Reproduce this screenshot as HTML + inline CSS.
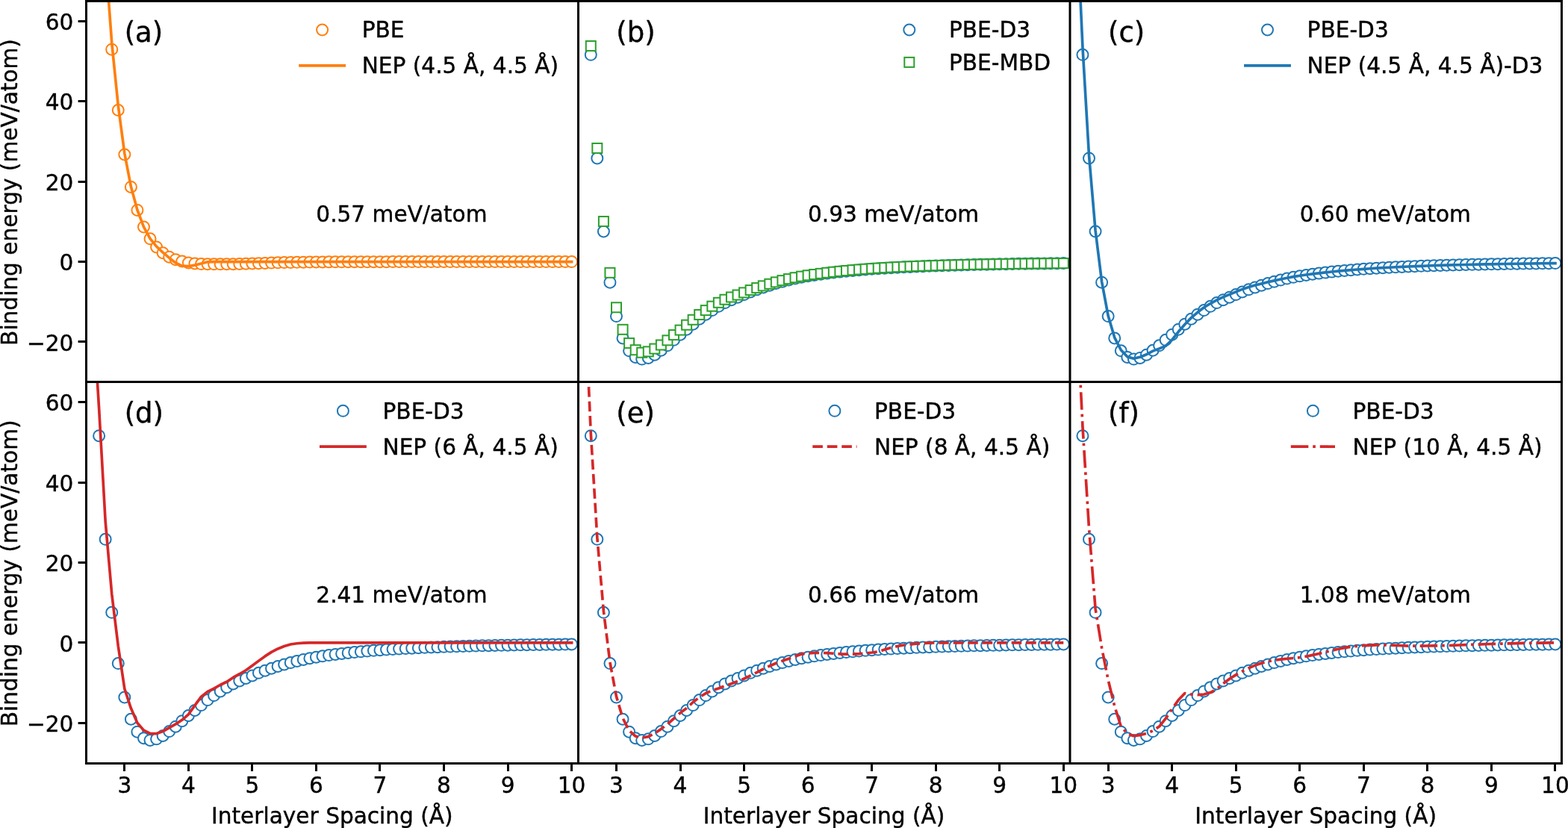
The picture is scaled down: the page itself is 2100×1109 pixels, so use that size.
<!DOCTYPE html>
<html lang="en"><head><meta charset="utf-8"><title>Binding energy vs interlayer spacing</title>
<style>html,body{margin:0;padding:0;background:#fff}svg{display:block}text{font-family:'DejaVu Sans','Liberation Sans',sans-serif;fill:#000;stroke:#000;stroke-width:0.4px;stroke-linejoin:round}</style>
</head><body>
<svg xmlns="http://www.w3.org/2000/svg" width="2100" height="1109" viewBox="0 0 2100 1109">
<rect width="2100" height="1109" fill="#fff"/>
<defs>
<clipPath id="cp00"><rect x="115.5" y="1.35" width="658.67" height="510.35"/></clipPath>
<clipPath id="cp01"><rect x="774.17" y="1.35" width="658.67" height="510.35"/></clipPath>
<clipPath id="cp02"><rect x="1432.84" y="1.35" width="658.67" height="510.35"/></clipPath>
<clipPath id="cp10"><rect x="115.5" y="511.7" width="658.67" height="510.35"/></clipPath>
<clipPath id="cp11"><rect x="774.17" y="511.7" width="658.67" height="510.35"/></clipPath>
<clipPath id="cp12"><rect x="1432.84" y="511.7" width="658.67" height="510.35"/></clipPath>
<circle id="mo" r="7.5" fill="#fff" stroke="#ff7f0e" stroke-width="2"/>
<circle id="mb" r="7.5" fill="#fff" stroke="#1f77b4" stroke-width="2"/>
<rect id="mg" x="-6.5" y="-6.5" width="13" height="13" fill="#fff" stroke="#2ca02c" stroke-width="2"/>
</defs>
<g clip-path="url(#cp00)"><use href="#mo" x="149.72" y="66.19"/><use href="#mo" x="158.27" y="147.52"/><use href="#mo" x="166.82" y="206.99"/><use href="#mo" x="175.38" y="250.4"/><use href="#mo" x="183.93" y="281.4"/><use href="#mo" x="192.49" y="303.91"/><use href="#mo" x="201.04" y="319.81"/><use href="#mo" x="209.6" y="330.93"/><use href="#mo" x="218.15" y="338.72"/><use href="#mo" x="226.7" y="344.14"/><use href="#mo" x="235.26" y="347.64"/><use href="#mo" x="243.81" y="350.11"/><use href="#mo" x="252.37" y="351.99"/><use href="#mo" x="260.92" y="352.95"/><use href="#mo" x="269.47" y="353.6"/><use href="#mo" x="278.03" y="353.76"/><use href="#mo" x="286.58" y="353.85"/><use href="#mo" x="295.14" y="353.81"/><use href="#mo" x="303.69" y="353.76"/><use href="#mo" x="312.25" y="353.64"/><use href="#mo" x="320.8" y="353.44"/><use href="#mo" x="329.35" y="353.2"/><use href="#mo" x="337.91" y="352.95"/><use href="#mo" x="346.46" y="352.7"/><use href="#mo" x="355.02" y="352.4"/><use href="#mo" x="363.57" y="352.1"/><use href="#mo" x="372.12" y="351.83"/><use href="#mo" x="380.68" y="351.61"/><use href="#mo" x="389.23" y="351.44"/><use href="#mo" x="397.79" y="351.29"/><use href="#mo" x="406.34" y="351.15"/><use href="#mo" x="414.9" y="351.04"/><use href="#mo" x="423.45" y="350.97"/><use href="#mo" x="432" y="350.91"/><use href="#mo" x="440.56" y="350.87"/><use href="#mo" x="449.11" y="350.83"/><use href="#mo" x="457.67" y="350.79"/><use href="#mo" x="466.22" y="350.76"/><use href="#mo" x="474.77" y="350.73"/><use href="#mo" x="483.33" y="350.7"/><use href="#mo" x="491.88" y="350.68"/><use href="#mo" x="500.44" y="350.66"/><use href="#mo" x="508.99" y="350.64"/><use href="#mo" x="517.55" y="350.63"/><use href="#mo" x="526.1" y="350.61"/><use href="#mo" x="534.65" y="350.6"/><use href="#mo" x="543.21" y="350.58"/><use href="#mo" x="551.76" y="350.57"/><use href="#mo" x="560.32" y="350.56"/><use href="#mo" x="568.87" y="350.55"/><use href="#mo" x="577.42" y="350.54"/><use href="#mo" x="585.98" y="350.54"/><use href="#mo" x="594.53" y="350.54"/><use href="#mo" x="603.09" y="350.54"/><use href="#mo" x="611.64" y="350.54"/><use href="#mo" x="620.2" y="350.54"/><use href="#mo" x="628.75" y="350.54"/><use href="#mo" x="637.3" y="350.54"/><use href="#mo" x="645.86" y="350.54"/><use href="#mo" x="654.41" y="350.54"/><use href="#mo" x="662.97" y="350.54"/><use href="#mo" x="671.52" y="350.54"/><use href="#mo" x="680.07" y="350.54"/><use href="#mo" x="688.63" y="350.54"/><use href="#mo" x="697.18" y="350.54"/><use href="#mo" x="705.74" y="350.54"/><use href="#mo" x="714.29" y="350.54"/><use href="#mo" x="722.85" y="350.54"/><use href="#mo" x="731.4" y="350.54"/><use href="#mo" x="739.95" y="350.54"/><use href="#mo" x="748.51" y="350.54"/><use href="#mo" x="757.06" y="350.54"/><use href="#mo" x="765.62" y="350.54"/></g>
<path clip-path="url(#cp00)" d="M145.56 1.35 L149.72 57.22 L158.27 141.56 L166.82 205.49 L175.38 249.81 L183.93 281.24 L192.49 303.8 L201.04 319.65 L209.6 330.12 L218.15 338.18 L226.7 345.43 L235.26 352.15 L243.81 356.18 L252.37 356.71 L260.92 355.1 L269.47 352.95 L278.03 350.81 L286.58 350.54 L295.14 350.54 L303.69 350.54 L312.25 350.54 L320.8 350.54 L329.35 350.54 L337.91 350.54 L346.46 350.54 L355.02 350.54 L363.57 350.54 L372.12 350.54 L380.68 350.54 L389.23 350.54 L397.79 350.54 L406.34 350.54 L414.9 350.54 L423.45 350.54 L432 350.54 L440.56 350.54 L449.11 350.54 L457.67 350.54 L466.22 350.54 L474.77 350.54 L483.33 350.54 L491.88 350.54 L500.44 350.54 L508.99 350.54 L517.55 350.54 L526.1 350.54 L534.65 350.54 L543.21 350.54 L551.76 350.54 L560.32 350.54 L568.87 350.54 L577.42 350.54 L585.98 350.54 L594.53 350.54 L603.09 350.54 L611.64 350.54 L620.2 350.54 L628.75 350.54 L637.3 350.54 L645.86 350.54 L654.41 350.54 L662.97 350.54 L671.52 350.54 L680.07 350.54 L688.63 350.54 L697.18 350.54 L705.74 350.54 L714.29 350.54 L722.85 350.54 L731.4 350.54 L739.95 350.54 L748.51 350.54 L757.06 350.54 L765.62 350.54" fill="none" stroke="#ff7f0e" stroke-width="3.68" stroke-linejoin="round" stroke-linecap="square"/>
<g clip-path="url(#cp01)"><use href="#mb" x="791.28" y="73.34"/><use href="#mb" x="799.83" y="211.94"/><use href="#mb" x="808.39" y="309.98"/><use href="#mb" x="816.94" y="378.2"/><use href="#mb" x="825.49" y="423.6"/><use href="#mb" x="834.05" y="452.88"/><use href="#mb" x="842.6" y="469.8"/><use href="#mb" x="851.16" y="478.39"/><use href="#mb" x="859.71" y="481.08"/><use href="#mb" x="868.27" y="479.47"/><use href="#mb" x="876.82" y="475.17"/><use href="#mb" x="885.37" y="469.26"/><use href="#mb" x="893.93" y="462.81"/><use href="#mb" x="902.48" y="455.29"/><use href="#mb" x="911.04" y="448.15"/><use href="#mb" x="919.59" y="441.16"/><use href="#mb" x="928.14" y="434.18"/><use href="#mb" x="936.7" y="427.25"/><use href="#mb" x="945.25" y="421.22"/><use href="#mb" x="953.81" y="415.54"/><use href="#mb" x="962.36" y="410.28"/><use href="#mb" x="970.92" y="405.6"/><use href="#mb" x="979.47" y="401.66"/><use href="#mb" x="988.02" y="398.14"/><use href="#mb" x="996.58" y="394.59"/><use href="#mb" x="1005.13" y="391.01"/><use href="#mb" x="1013.69" y="387.79"/><use href="#mb" x="1022.24" y="384.89"/><use href="#mb" x="1030.79" y="382.17"/><use href="#mb" x="1039.35" y="379.58"/><use href="#mb" x="1047.9" y="377.21"/><use href="#mb" x="1056.46" y="375.03"/><use href="#mb" x="1065.01" y="373.04"/><use href="#mb" x="1073.57" y="371.32"/><use href="#mb" x="1082.12" y="369.84"/><use href="#mb" x="1090.67" y="368.49"/><use href="#mb" x="1099.23" y="367.25"/><use href="#mb" x="1107.78" y="366.12"/><use href="#mb" x="1116.34" y="365.08"/><use href="#mb" x="1124.89" y="364.12"/><use href="#mb" x="1133.44" y="363.24"/><use href="#mb" x="1142" y="362.43"/><use href="#mb" x="1150.55" y="361.68"/><use href="#mb" x="1159.11" y="360.99"/><use href="#mb" x="1167.66" y="360.35"/><use href="#mb" x="1176.22" y="359.76"/><use href="#mb" x="1184.77" y="359.21"/><use href="#mb" x="1193.32" y="358.7"/><use href="#mb" x="1201.88" y="358.22"/><use href="#mb" x="1210.43" y="357.78"/><use href="#mb" x="1218.99" y="357.38"/><use href="#mb" x="1227.54" y="356.99"/><use href="#mb" x="1236.09" y="356.64"/><use href="#mb" x="1244.65" y="356.31"/><use href="#mb" x="1253.2" y="356"/><use href="#mb" x="1261.76" y="355.71"/><use href="#mb" x="1270.31" y="355.44"/><use href="#mb" x="1278.87" y="355.18"/><use href="#mb" x="1287.42" y="354.94"/><use href="#mb" x="1295.97" y="354.72"/><use href="#mb" x="1304.53" y="354.51"/><use href="#mb" x="1313.08" y="354.31"/><use href="#mb" x="1321.64" y="354.13"/><use href="#mb" x="1330.19" y="353.96"/><use href="#mb" x="1338.74" y="353.79"/><use href="#mb" x="1347.3" y="353.64"/><use href="#mb" x="1355.85" y="353.49"/><use href="#mb" x="1364.41" y="353.36"/><use href="#mb" x="1372.96" y="353.23"/><use href="#mb" x="1381.52" y="353.1"/><use href="#mb" x="1390.07" y="352.99"/><use href="#mb" x="1398.62" y="352.88"/><use href="#mb" x="1407.18" y="352.78"/><use href="#mb" x="1415.73" y="352.68"/><use href="#mb" x="1424.29" y="352.59"/></g>
<g clip-path="url(#cp01)"><use href="#mg" x="791.28" y="61.52"/><use href="#mg" x="799.83" y="198.51"/><use href="#mg" x="808.39" y="296.55"/><use href="#mg" x="816.94" y="365.31"/><use href="#mg" x="825.49" y="411.78"/><use href="#mg" x="834.05" y="441.33"/><use href="#mg" x="842.6" y="459.59"/><use href="#mg" x="851.16" y="468.72"/><use href="#mg" x="859.71" y="472.22"/><use href="#mg" x="868.27" y="470.87"/><use href="#mg" x="876.82" y="467.11"/><use href="#mg" x="885.37" y="462.01"/><use href="#mg" x="893.93" y="455.83"/><use href="#mg" x="902.48" y="448.58"/><use href="#mg" x="911.04" y="442.08"/><use href="#mg" x="919.59" y="435.19"/><use href="#mg" x="928.14" y="428.27"/><use href="#mg" x="936.7" y="421.47"/><use href="#mg" x="945.25" y="415.62"/><use href="#mg" x="953.81" y="410.17"/><use href="#mg" x="962.36" y="405.31"/><use href="#mg" x="970.92" y="401.22"/><use href="#mg" x="979.47" y="397.94"/><use href="#mg" x="988.02" y="395.03"/><use href="#mg" x="996.58" y="391.9"/><use href="#mg" x="1005.13" y="388.58"/><use href="#mg" x="1013.69" y="385.58"/><use href="#mg" x="1022.24" y="382.85"/><use href="#mg" x="1030.79" y="380.29"/><use href="#mg" x="1039.35" y="377.86"/><use href="#mg" x="1047.9" y="375.64"/><use href="#mg" x="1056.46" y="373.61"/><use href="#mg" x="1065.01" y="371.75"/><use href="#mg" x="1073.57" y="370.15"/><use href="#mg" x="1082.12" y="368.77"/><use href="#mg" x="1090.67" y="367.5"/><use href="#mg" x="1099.23" y="366.34"/><use href="#mg" x="1107.78" y="365.27"/><use href="#mg" x="1116.34" y="364.28"/><use href="#mg" x="1124.89" y="363.37"/><use href="#mg" x="1133.44" y="362.52"/><use href="#mg" x="1142" y="361.73"/><use href="#mg" x="1150.55" y="361"/><use href="#mg" x="1159.11" y="360.32"/><use href="#mg" x="1167.66" y="359.7"/><use href="#mg" x="1176.22" y="359.13"/><use href="#mg" x="1184.77" y="358.6"/><use href="#mg" x="1193.32" y="358.11"/><use href="#mg" x="1201.88" y="357.66"/><use href="#mg" x="1210.43" y="357.25"/><use href="#mg" x="1218.99" y="356.87"/><use href="#mg" x="1227.54" y="356.54"/><use href="#mg" x="1236.09" y="356.24"/><use href="#mg" x="1244.65" y="355.95"/><use href="#mg" x="1253.2" y="355.67"/><use href="#mg" x="1261.76" y="355.41"/><use href="#mg" x="1270.31" y="355.16"/><use href="#mg" x="1278.87" y="354.92"/><use href="#mg" x="1287.42" y="354.7"/><use href="#mg" x="1295.97" y="354.49"/><use href="#mg" x="1304.53" y="354.29"/><use href="#mg" x="1313.08" y="354.11"/><use href="#mg" x="1321.64" y="353.94"/><use href="#mg" x="1330.19" y="353.78"/><use href="#mg" x="1338.74" y="353.63"/><use href="#mg" x="1347.3" y="353.49"/><use href="#mg" x="1355.85" y="353.36"/><use href="#mg" x="1364.41" y="353.24"/><use href="#mg" x="1372.96" y="353.13"/><use href="#mg" x="1381.52" y="353.02"/><use href="#mg" x="1390.07" y="352.92"/><use href="#mg" x="1398.62" y="352.83"/><use href="#mg" x="1407.18" y="352.74"/><use href="#mg" x="1415.73" y="352.66"/><use href="#mg" x="1424.29" y="352.59"/></g>
<g clip-path="url(#cp02)"><use href="#mb" x="1449.95" y="73.34"/><use href="#mb" x="1458.5" y="211.94"/><use href="#mb" x="1467.06" y="309.98"/><use href="#mb" x="1475.61" y="378.2"/><use href="#mb" x="1484.16" y="423.6"/><use href="#mb" x="1492.72" y="452.88"/><use href="#mb" x="1501.27" y="469.8"/><use href="#mb" x="1509.83" y="478.39"/><use href="#mb" x="1518.38" y="481.08"/><use href="#mb" x="1526.94" y="479.47"/><use href="#mb" x="1535.49" y="475.17"/><use href="#mb" x="1544.04" y="469.26"/><use href="#mb" x="1552.6" y="462.81"/><use href="#mb" x="1561.15" y="455.29"/><use href="#mb" x="1569.71" y="448.15"/><use href="#mb" x="1578.26" y="441.16"/><use href="#mb" x="1586.81" y="434.18"/><use href="#mb" x="1595.37" y="427.25"/><use href="#mb" x="1603.92" y="421.22"/><use href="#mb" x="1612.48" y="415.54"/><use href="#mb" x="1621.03" y="410.28"/><use href="#mb" x="1629.59" y="405.6"/><use href="#mb" x="1638.14" y="401.66"/><use href="#mb" x="1646.69" y="398.14"/><use href="#mb" x="1655.25" y="394.59"/><use href="#mb" x="1663.8" y="391.01"/><use href="#mb" x="1672.36" y="387.79"/><use href="#mb" x="1680.91" y="384.89"/><use href="#mb" x="1689.46" y="382.17"/><use href="#mb" x="1698.02" y="379.58"/><use href="#mb" x="1706.57" y="377.21"/><use href="#mb" x="1715.13" y="375.03"/><use href="#mb" x="1723.68" y="373.04"/><use href="#mb" x="1732.24" y="371.32"/><use href="#mb" x="1740.79" y="369.84"/><use href="#mb" x="1749.34" y="368.49"/><use href="#mb" x="1757.9" y="367.25"/><use href="#mb" x="1766.45" y="366.12"/><use href="#mb" x="1775.01" y="365.08"/><use href="#mb" x="1783.56" y="364.12"/><use href="#mb" x="1792.11" y="363.24"/><use href="#mb" x="1800.67" y="362.43"/><use href="#mb" x="1809.22" y="361.68"/><use href="#mb" x="1817.78" y="360.99"/><use href="#mb" x="1826.33" y="360.35"/><use href="#mb" x="1834.89" y="359.76"/><use href="#mb" x="1843.44" y="359.21"/><use href="#mb" x="1851.99" y="358.7"/><use href="#mb" x="1860.55" y="358.22"/><use href="#mb" x="1869.1" y="357.78"/><use href="#mb" x="1877.66" y="357.38"/><use href="#mb" x="1886.21" y="356.99"/><use href="#mb" x="1894.76" y="356.64"/><use href="#mb" x="1903.32" y="356.31"/><use href="#mb" x="1911.87" y="356"/><use href="#mb" x="1920.43" y="355.71"/><use href="#mb" x="1928.98" y="355.44"/><use href="#mb" x="1937.54" y="355.18"/><use href="#mb" x="1946.09" y="354.94"/><use href="#mb" x="1954.64" y="354.72"/><use href="#mb" x="1963.2" y="354.51"/><use href="#mb" x="1971.75" y="354.31"/><use href="#mb" x="1980.31" y="354.13"/><use href="#mb" x="1988.86" y="353.96"/><use href="#mb" x="1997.41" y="353.79"/><use href="#mb" x="2005.97" y="353.64"/><use href="#mb" x="2014.52" y="353.49"/><use href="#mb" x="2023.08" y="353.36"/><use href="#mb" x="2031.63" y="353.23"/><use href="#mb" x="2040.19" y="353.1"/><use href="#mb" x="2048.74" y="352.99"/><use href="#mb" x="2057.29" y="352.88"/><use href="#mb" x="2065.85" y="352.78"/><use href="#mb" x="2074.4" y="352.68"/><use href="#mb" x="2082.96" y="352.59"/></g>
<path clip-path="url(#cp02)" d="M1447.1 1.35 L1449.95 63.13 L1458.5 208.18 L1467.06 308.63 L1475.61 377.32 L1484.16 423.06 L1492.72 452.07 L1501.27 468.72 L1509.83 477.86 L1518.38 480.28 L1526.94 478.17 L1535.49 474.75 L1544.04 470.14 L1552.6 466.87 L1561.15 463.37 L1569.71 455.24 L1578.26 444.31 L1586.81 434.51 L1595.37 425.64 L1603.92 418.27 L1612.48 411.78 L1621.03 406.52 L1629.59 401.84 L1638.14 397.9 L1646.69 394.38 L1655.25 390.83 L1663.8 387.39 L1672.36 384.46 L1680.91 382.05 L1689.46 379.91 L1698.02 377.81 L1706.57 375.86 L1715.13 374 L1723.68 372.23 L1732.24 370.67 L1740.79 369.3 L1749.34 368.05 L1757.9 366.9 L1766.45 365.84 L1775.01 364.86 L1783.56 363.96 L1792.11 363.12 L1800.67 362.36 L1809.22 361.64 L1817.78 360.98 L1826.33 360.35 L1834.89 359.76 L1843.44 359.21 L1851.99 358.7 L1860.55 358.22 L1869.1 357.78 L1877.66 357.38 L1886.21 356.99 L1894.76 356.64 L1903.32 356.31 L1911.87 356 L1920.43 355.71 L1928.98 355.44 L1937.54 355.18 L1946.09 354.94 L1954.64 354.72 L1963.2 354.51 L1971.75 354.31 L1980.31 354.13 L1988.86 353.96 L1997.41 353.79 L2005.97 353.64 L2014.52 353.49 L2023.08 353.36 L2031.63 353.23 L2040.19 353.1 L2048.74 352.99 L2057.29 352.88 L2065.85 352.78 L2074.4 352.68 L2082.96 352.59" fill="none" stroke="#1f77b4" stroke-width="3.68" stroke-linejoin="round" stroke-linecap="square"/>
<g clip-path="url(#cp10)"><use href="#mb" x="132.61" y="583.69"/><use href="#mb" x="141.16" y="722.29"/><use href="#mb" x="149.72" y="820.33"/><use href="#mb" x="158.27" y="888.55"/><use href="#mb" x="166.82" y="933.95"/><use href="#mb" x="175.38" y="963.23"/><use href="#mb" x="183.93" y="980.15"/><use href="#mb" x="192.49" y="988.74"/><use href="#mb" x="201.04" y="991.43"/><use href="#mb" x="209.6" y="989.82"/><use href="#mb" x="218.15" y="985.52"/><use href="#mb" x="226.7" y="979.61"/><use href="#mb" x="235.26" y="973.16"/><use href="#mb" x="243.81" y="965.64"/><use href="#mb" x="252.37" y="958.5"/><use href="#mb" x="260.92" y="951.51"/><use href="#mb" x="269.47" y="944.53"/><use href="#mb" x="278.03" y="937.6"/><use href="#mb" x="286.58" y="931.57"/><use href="#mb" x="295.14" y="925.89"/><use href="#mb" x="303.69" y="920.63"/><use href="#mb" x="312.25" y="915.95"/><use href="#mb" x="320.8" y="912.01"/><use href="#mb" x="329.35" y="908.49"/><use href="#mb" x="337.91" y="904.94"/><use href="#mb" x="346.46" y="901.36"/><use href="#mb" x="355.02" y="898.14"/><use href="#mb" x="363.57" y="895.24"/><use href="#mb" x="372.12" y="892.52"/><use href="#mb" x="380.68" y="889.93"/><use href="#mb" x="389.23" y="887.56"/><use href="#mb" x="397.79" y="885.38"/><use href="#mb" x="406.34" y="883.39"/><use href="#mb" x="414.9" y="881.67"/><use href="#mb" x="423.45" y="880.19"/><use href="#mb" x="432" y="878.84"/><use href="#mb" x="440.56" y="877.6"/><use href="#mb" x="449.11" y="876.47"/><use href="#mb" x="457.67" y="875.43"/><use href="#mb" x="466.22" y="874.47"/><use href="#mb" x="474.77" y="873.59"/><use href="#mb" x="483.33" y="872.78"/><use href="#mb" x="491.88" y="872.03"/><use href="#mb" x="500.44" y="871.34"/><use href="#mb" x="508.99" y="870.7"/><use href="#mb" x="517.55" y="870.11"/><use href="#mb" x="526.1" y="869.56"/><use href="#mb" x="534.65" y="869.05"/><use href="#mb" x="543.21" y="868.57"/><use href="#mb" x="551.76" y="868.13"/><use href="#mb" x="560.32" y="867.73"/><use href="#mb" x="568.87" y="867.34"/><use href="#mb" x="577.42" y="866.99"/><use href="#mb" x="585.98" y="866.66"/><use href="#mb" x="594.53" y="866.35"/><use href="#mb" x="603.09" y="866.06"/><use href="#mb" x="611.64" y="865.79"/><use href="#mb" x="620.2" y="865.53"/><use href="#mb" x="628.75" y="865.29"/><use href="#mb" x="637.3" y="865.07"/><use href="#mb" x="645.86" y="864.86"/><use href="#mb" x="654.41" y="864.66"/><use href="#mb" x="662.97" y="864.48"/><use href="#mb" x="671.52" y="864.31"/><use href="#mb" x="680.07" y="864.14"/><use href="#mb" x="688.63" y="863.99"/><use href="#mb" x="697.18" y="863.84"/><use href="#mb" x="705.74" y="863.71"/><use href="#mb" x="714.29" y="863.58"/><use href="#mb" x="722.85" y="863.45"/><use href="#mb" x="731.4" y="863.34"/><use href="#mb" x="739.95" y="863.23"/><use href="#mb" x="748.51" y="863.13"/><use href="#mb" x="757.06" y="863.03"/><use href="#mb" x="765.62" y="862.94"/></g>
<path clip-path="url(#cp10)" d="M130.42 511.7 L132.61 546.89 L141.16 698.23 L149.72 795.44 L158.27 865.2 L166.82 922.53 L175.38 948.57 L183.93 968.24 L192.49 978.15 L201.04 982.34 L209.6 982.57 L218.15 979.63 L226.7 974.56 L235.26 969.84 L243.81 964.29 L252.37 956.84 L260.92 944.87 L269.47 933.2 L278.03 926.47 L286.58 922.08 L295.14 917.24 L303.69 913.28 L312.25 907.43 L320.8 902.73 L329.35 897.72 L337.91 891.56 L346.46 885.12 L355.02 878.91 L363.57 873.37 L372.12 868.97 L380.68 865.5 L389.23 863.04 L397.79 861.78 L406.34 861.19 L414.9 860.89 L423.45 860.89 L432 860.89 L440.56 860.89 L449.11 860.89 L457.67 860.89 L466.22 860.89 L474.77 860.89 L483.33 860.89 L491.88 860.89 L500.44 860.89 L508.99 860.89 L517.55 860.89 L526.1 860.89 L534.65 860.89 L543.21 860.89 L551.76 860.89 L560.32 860.89 L568.87 860.89 L577.42 860.89 L585.98 860.89 L594.53 860.89 L603.09 860.89 L611.64 860.89 L620.2 860.89 L628.75 860.89 L637.3 860.89 L645.86 860.89 L654.41 860.89 L662.97 860.89 L671.52 860.89 L680.07 860.89 L688.63 860.89 L697.18 860.89 L705.74 860.89 L714.29 860.89 L722.85 860.89 L731.4 860.89 L739.95 860.89 L748.51 860.89 L757.06 860.89 L765.62 860.89" fill="none" stroke="#d62728" stroke-width="3.68" stroke-linejoin="round" stroke-linecap="square"/>
<g clip-path="url(#cp11)"><use href="#mb" x="791.28" y="583.69"/><use href="#mb" x="799.83" y="722.29"/><use href="#mb" x="808.39" y="820.33"/><use href="#mb" x="816.94" y="888.55"/><use href="#mb" x="825.49" y="933.95"/><use href="#mb" x="834.05" y="963.23"/><use href="#mb" x="842.6" y="980.15"/><use href="#mb" x="851.16" y="988.74"/><use href="#mb" x="859.71" y="991.43"/><use href="#mb" x="868.27" y="989.82"/><use href="#mb" x="876.82" y="985.52"/><use href="#mb" x="885.37" y="979.61"/><use href="#mb" x="893.93" y="973.16"/><use href="#mb" x="902.48" y="965.64"/><use href="#mb" x="911.04" y="958.5"/><use href="#mb" x="919.59" y="951.51"/><use href="#mb" x="928.14" y="944.53"/><use href="#mb" x="936.7" y="937.6"/><use href="#mb" x="945.25" y="931.57"/><use href="#mb" x="953.81" y="925.89"/><use href="#mb" x="962.36" y="920.63"/><use href="#mb" x="970.92" y="915.95"/><use href="#mb" x="979.47" y="912.01"/><use href="#mb" x="988.02" y="908.49"/><use href="#mb" x="996.58" y="904.94"/><use href="#mb" x="1005.13" y="901.36"/><use href="#mb" x="1013.69" y="898.14"/><use href="#mb" x="1022.24" y="895.24"/><use href="#mb" x="1030.79" y="892.52"/><use href="#mb" x="1039.35" y="889.93"/><use href="#mb" x="1047.9" y="887.56"/><use href="#mb" x="1056.46" y="885.38"/><use href="#mb" x="1065.01" y="883.39"/><use href="#mb" x="1073.57" y="881.67"/><use href="#mb" x="1082.12" y="880.19"/><use href="#mb" x="1090.67" y="878.84"/><use href="#mb" x="1099.23" y="877.6"/><use href="#mb" x="1107.78" y="876.47"/><use href="#mb" x="1116.34" y="875.43"/><use href="#mb" x="1124.89" y="874.47"/><use href="#mb" x="1133.44" y="873.59"/><use href="#mb" x="1142" y="872.78"/><use href="#mb" x="1150.55" y="872.03"/><use href="#mb" x="1159.11" y="871.34"/><use href="#mb" x="1167.66" y="870.7"/><use href="#mb" x="1176.22" y="870.11"/><use href="#mb" x="1184.77" y="869.56"/><use href="#mb" x="1193.32" y="869.05"/><use href="#mb" x="1201.88" y="868.57"/><use href="#mb" x="1210.43" y="868.13"/><use href="#mb" x="1218.99" y="867.73"/><use href="#mb" x="1227.54" y="867.34"/><use href="#mb" x="1236.09" y="866.99"/><use href="#mb" x="1244.65" y="866.66"/><use href="#mb" x="1253.2" y="866.35"/><use href="#mb" x="1261.76" y="866.06"/><use href="#mb" x="1270.31" y="865.79"/><use href="#mb" x="1278.87" y="865.53"/><use href="#mb" x="1287.42" y="865.29"/><use href="#mb" x="1295.97" y="865.07"/><use href="#mb" x="1304.53" y="864.86"/><use href="#mb" x="1313.08" y="864.66"/><use href="#mb" x="1321.64" y="864.48"/><use href="#mb" x="1330.19" y="864.31"/><use href="#mb" x="1338.74" y="864.14"/><use href="#mb" x="1347.3" y="863.99"/><use href="#mb" x="1355.85" y="863.84"/><use href="#mb" x="1364.41" y="863.71"/><use href="#mb" x="1372.96" y="863.58"/><use href="#mb" x="1381.52" y="863.45"/><use href="#mb" x="1390.07" y="863.34"/><use href="#mb" x="1398.62" y="863.23"/><use href="#mb" x="1407.18" y="863.13"/><use href="#mb" x="1415.73" y="863.03"/><use href="#mb" x="1424.29" y="862.94"/></g>
<path clip-path="url(#cp11)" d="M788.22 511.7 L791.28 580.29 L799.83 720.14 L808.39 818.45 L816.94 887.21 L825.49 932.87 L834.05 961.88 L842.6 978.54 L851.16 986.06 L859.71 988.21 L868.27 986.59 L876.82 982.3 L885.37 976.39 L893.93 969.94 L902.48 962.42 L911.04 954.9 L919.59 948.45 L928.14 940.5 L936.7 933.84 L945.25 928.62 L953.81 924.81 L962.36 921.97 L970.92 918.64 L979.47 915.77 L988.02 912.52 L996.58 908.97 L1005.13 904.85 L1013.69 900.56 L1022.24 896.04 L1030.79 891.98 L1039.35 888.31 L1047.9 885.14 L1056.46 882.16 L1065.01 879.09 L1073.57 876.08 L1082.12 874.89 L1090.67 874.43 L1099.23 874.33 L1107.78 874.68 L1116.34 875.27 L1124.89 875.86 L1133.44 876.19 L1142 876.08 L1150.55 875.65 L1159.11 874.95 L1167.66 874.03 L1176.22 872.8 L1184.77 870.09 L1193.32 867.45 L1201.88 865.5 L1210.43 863.96 L1218.99 862.92 L1227.54 862.14 L1236.09 861.57 L1244.65 861.13 L1253.2 860.95 L1261.76 860.89 L1270.31 860.89 L1278.87 860.89 L1287.42 860.89 L1295.97 860.89 L1304.53 860.89 L1313.08 860.89 L1321.64 860.89 L1330.19 860.89 L1338.74 860.89 L1347.3 860.89 L1355.85 860.89 L1364.41 860.89 L1372.96 860.89 L1381.52 860.89 L1390.07 860.89 L1398.62 860.89 L1407.18 860.89 L1415.73 860.89 L1424.29 860.89" fill="none" stroke="#d62728" stroke-width="3.68" stroke-linejoin="round" stroke-dasharray="13.6 5.88" stroke-dashoffset="13.09"/>
<g clip-path="url(#cp12)"><use href="#mb" x="1449.95" y="583.69"/><use href="#mb" x="1458.5" y="722.29"/><use href="#mb" x="1467.06" y="820.33"/><use href="#mb" x="1475.61" y="888.55"/><use href="#mb" x="1484.16" y="933.95"/><use href="#mb" x="1492.72" y="963.23"/><use href="#mb" x="1501.27" y="980.15"/><use href="#mb" x="1509.83" y="988.74"/><use href="#mb" x="1518.38" y="991.43"/><use href="#mb" x="1526.94" y="989.82"/><use href="#mb" x="1535.49" y="985.52"/><use href="#mb" x="1544.04" y="979.61"/><use href="#mb" x="1552.6" y="973.16"/><use href="#mb" x="1561.15" y="965.64"/><use href="#mb" x="1569.71" y="958.5"/><use href="#mb" x="1578.26" y="951.51"/><use href="#mb" x="1586.81" y="944.53"/><use href="#mb" x="1595.37" y="937.6"/><use href="#mb" x="1603.92" y="931.57"/><use href="#mb" x="1612.48" y="925.89"/><use href="#mb" x="1621.03" y="920.63"/><use href="#mb" x="1629.59" y="915.95"/><use href="#mb" x="1638.14" y="912.01"/><use href="#mb" x="1646.69" y="908.49"/><use href="#mb" x="1655.25" y="904.94"/><use href="#mb" x="1663.8" y="901.36"/><use href="#mb" x="1672.36" y="898.14"/><use href="#mb" x="1680.91" y="895.24"/><use href="#mb" x="1689.46" y="892.52"/><use href="#mb" x="1698.02" y="889.93"/><use href="#mb" x="1706.57" y="887.56"/><use href="#mb" x="1715.13" y="885.38"/><use href="#mb" x="1723.68" y="883.39"/><use href="#mb" x="1732.24" y="881.67"/><use href="#mb" x="1740.79" y="880.19"/><use href="#mb" x="1749.34" y="878.84"/><use href="#mb" x="1757.9" y="877.6"/><use href="#mb" x="1766.45" y="876.47"/><use href="#mb" x="1775.01" y="875.43"/><use href="#mb" x="1783.56" y="874.47"/><use href="#mb" x="1792.11" y="873.59"/><use href="#mb" x="1800.67" y="872.78"/><use href="#mb" x="1809.22" y="872.03"/><use href="#mb" x="1817.78" y="871.34"/><use href="#mb" x="1826.33" y="870.7"/><use href="#mb" x="1834.89" y="870.11"/><use href="#mb" x="1843.44" y="869.56"/><use href="#mb" x="1851.99" y="869.05"/><use href="#mb" x="1860.55" y="868.57"/><use href="#mb" x="1869.1" y="868.13"/><use href="#mb" x="1877.66" y="867.73"/><use href="#mb" x="1886.21" y="867.34"/><use href="#mb" x="1894.76" y="866.99"/><use href="#mb" x="1903.32" y="866.66"/><use href="#mb" x="1911.87" y="866.35"/><use href="#mb" x="1920.43" y="866.06"/><use href="#mb" x="1928.98" y="865.79"/><use href="#mb" x="1937.54" y="865.53"/><use href="#mb" x="1946.09" y="865.29"/><use href="#mb" x="1954.64" y="865.07"/><use href="#mb" x="1963.2" y="864.86"/><use href="#mb" x="1971.75" y="864.66"/><use href="#mb" x="1980.31" y="864.48"/><use href="#mb" x="1988.86" y="864.31"/><use href="#mb" x="1997.41" y="864.14"/><use href="#mb" x="2005.97" y="863.99"/><use href="#mb" x="2014.52" y="863.84"/><use href="#mb" x="2023.08" y="863.71"/><use href="#mb" x="2031.63" y="863.58"/><use href="#mb" x="2040.19" y="863.45"/><use href="#mb" x="2048.74" y="863.34"/><use href="#mb" x="2057.29" y="863.23"/><use href="#mb" x="2065.85" y="863.13"/><use href="#mb" x="2074.4" y="863.03"/><use href="#mb" x="2082.96" y="862.94"/></g>
<path clip-path="url(#cp12)" d="M1446.99 511.7 L1449.95 571.36 L1458.5 707.58 L1467.06 815.22 L1475.61 867.88 L1484.16 910.7 L1492.72 945.85 L1501.27 972.69 L1509.83 982.83 L1518.38 985.73 L1526.94 984.59 L1535.49 982.33 L1544.04 978.71 L1552.6 973.06 L1561.15 962.42 L1569.71 949.71 L1578.26 937.47 L1586.81 928.49 L1595.37 929.88 L1603.92 930.64 L1612.48 930.02 L1621.03 927.51 L1629.59 922.86 L1638.14 915.59 L1646.69 909.28 L1655.25 903.9 L1663.8 899.15 L1672.36 894.82 L1680.91 891.1 L1689.46 888.15 L1698.02 885.89 L1706.57 884.33 L1715.13 883.18 L1723.68 882.26 L1732.24 881.49 L1740.79 880.6 L1749.34 879.18 L1757.9 877.39 L1766.45 875.42 L1775.01 873.43 L1783.56 871.33 L1792.11 869.2 L1800.67 867.58 L1809.22 866.25 L1817.78 865.36 L1826.33 864.74 L1834.89 864.3 L1843.44 863.95 L1851.99 863.79 L1860.55 863.96 L1869.1 864.35 L1877.66 864.78 L1886.21 865.08 L1894.76 865.12 L1903.32 865.07 L1911.87 864.99 L1920.43 864.88 L1928.98 864.75 L1937.54 864.58 L1946.09 864.33 L1954.64 864.02 L1963.2 863.68 L1971.75 863.35 L1980.31 863.04 L1988.86 862.77 L1997.41 862.52 L2005.97 862.26 L2014.52 862.01 L2023.08 861.79 L2031.63 861.59 L2040.19 861.42 L2048.74 861.29 L2057.29 861.16 L2065.85 861.05 L2074.4 860.96 L2082.96 860.89" fill="none" stroke="#d62728" stroke-width="3.68" stroke-linejoin="round" stroke-dasharray="23.53 5.88 3.68 5.88" stroke-dashoffset="25.38"/>
<g stroke="#000" stroke-width="3" fill="none" stroke-linecap="square"><path d="M115.5 1.4 V1022.5"/><path d="M774.5 1.4 V1022.5"/><path d="M1433 1.4 V1022.5"/><path d="M2091.5 1.4 V1022.5"/><path d="M115.5 1.4 H2091.5"/><path d="M115.5 511.5 H2091.5"/><path d="M115.5 1022.5 H2091.5"/></g>
<g stroke="#000" stroke-width="3" fill="none"><path d="M115.5 28.5 H104.6"/><path d="M115.5 135.5 H104.6"/><path d="M115.5 243.5 H104.6"/><path d="M115.5 350.5 H104.6"/><path d="M115.5 457.5 H104.6"/><path d="M115.5 538.5 H104.6"/><path d="M115.5 646.5 H104.6"/><path d="M115.5 753.5 H104.6"/><path d="M115.5 860.5 H104.6"/><path d="M115.5 968.5 H104.6"/><path d="M166.5 1022.5 V1033"/><path d="M252.5 1022.5 V1033"/><path d="M337.5 1022.5 V1033"/><path d="M423.5 1022.5 V1033"/><path d="M508.5 1022.5 V1033"/><path d="M594.5 1022.5 V1033"/><path d="M680.5 1022.5 V1033"/><path d="M765.5 1022.5 V1033"/><path d="M825.5 1022.5 V1033"/><path d="M911.5 1022.5 V1033"/><path d="M996.5 1022.5 V1033"/><path d="M1082.5 1022.5 V1033"/><path d="M1167.5 1022.5 V1033"/><path d="M1253.5 1022.5 V1033"/><path d="M1338.5 1022.5 V1033"/><path d="M1424.5 1022.5 V1033"/><path d="M1484.5 1022.5 V1033"/><path d="M1569.5 1022.5 V1033"/><path d="M1655.5 1022.5 V1033"/><path d="M1740.5 1022.5 V1033"/><path d="M1826.5 1022.5 V1033"/><path d="M1911.5 1022.5 V1033"/><path d="M1997.5 1022.5 V1033"/><path d="M2082.5 1022.5 V1033"/></g>
<g font-size="29.6"><text x="98.4" y="39.91" text-anchor="end">60</text><text x="98.4" y="147.35" text-anchor="end">40</text><text x="98.4" y="254.79" text-anchor="end">20</text><text x="98.4" y="362.24" text-anchor="end">0</text><text x="98.4" y="469.68" text-anchor="end">−20</text><text x="98.4" y="550.26" text-anchor="end">60</text><text x="98.4" y="657.7" text-anchor="end">40</text><text x="98.4" y="765.14" text-anchor="end">20</text><text x="98.4" y="872.59" text-anchor="end">0</text><text x="98.4" y="980.03" text-anchor="end">−20</text><text x="166.82" y="1062.4" text-anchor="middle">3</text><text x="252.37" y="1062.4" text-anchor="middle">4</text><text x="337.91" y="1062.4" text-anchor="middle">5</text><text x="423.45" y="1062.4" text-anchor="middle">6</text><text x="508.99" y="1062.4" text-anchor="middle">7</text><text x="594.53" y="1062.4" text-anchor="middle">8</text><text x="680.07" y="1062.4" text-anchor="middle">9</text><text x="765.62" y="1062.4" text-anchor="middle">10</text><text x="825.49" y="1062.4" text-anchor="middle">3</text><text x="911.04" y="1062.4" text-anchor="middle">4</text><text x="996.58" y="1062.4" text-anchor="middle">5</text><text x="1082.12" y="1062.4" text-anchor="middle">6</text><text x="1167.66" y="1062.4" text-anchor="middle">7</text><text x="1253.2" y="1062.4" text-anchor="middle">8</text><text x="1338.74" y="1062.4" text-anchor="middle">9</text><text x="1424.29" y="1062.4" text-anchor="middle">10</text><text x="1484.16" y="1062.4" text-anchor="middle">3</text><text x="1569.71" y="1062.4" text-anchor="middle">4</text><text x="1655.25" y="1062.4" text-anchor="middle">5</text><text x="1740.79" y="1062.4" text-anchor="middle">6</text><text x="1826.33" y="1062.4" text-anchor="middle">7</text><text x="1911.87" y="1062.4" text-anchor="middle">8</text><text x="1997.41" y="1062.4" text-anchor="middle">9</text><text x="2082.96" y="1062.4" text-anchor="middle">10</text><text x="444.83" y="1102.8" text-anchor="middle">Interlayer Spacing (Å)</text><text x="1103.5" y="1102.8" text-anchor="middle">Interlayer Spacing (Å)</text><text x="1762.17" y="1102.8" text-anchor="middle">Interlayer Spacing (Å)</text><text transform="translate(22.6,257.53) rotate(-90)" text-anchor="middle">Binding energy (meV/atom)</text><text transform="translate(22.6,767.88) rotate(-90)" text-anchor="middle">Binding energy (meV/atom)</text><text x="423.3" y="297.1">0.57 meV/atom</text><text x="1081.97" y="297.1">0.93 meV/atom</text><text x="1740.64" y="297.1">0.60 meV/atom</text><text x="423.3" y="807.45">2.41 meV/atom</text><text x="1081.97" y="807.45">0.66 meV/atom</text><text x="1740.64" y="807.45">1.08 meV/atom</text></g>
<g font-size="37"><text x="166.7" y="55.5">(a)</text><text x="825.37" y="55.5">(b)</text><text x="1484.04" y="55.5">(c)</text><text x="166.7" y="565.85">(d)</text><text x="825.37" y="565.85">(e)</text><text x="1484.04" y="565.85">(f)</text></g>
<g font-size="29.6"><use href="#mo" x="431.6" y="40"/><text x="484.7" y="50.3">PBE</text><path d="M402 87.85 H461.2" stroke="#ff7f0e" stroke-width="3.68" stroke-linecap="square" fill="none"/><text x="484.7" y="98.15">NEP (4.5 Å, 4.5 Å)</text></g>
<g font-size="29.6"><use href="#mb" x="1217.8" y="40"/><text x="1270.9" y="50.3">PBE-D3</text><use href="#mg" x="1217.8" y="83.4"/><text x="1270.9" y="93.7">PBE-MBD</text></g>
<g font-size="29.6"><use href="#mb" x="1697.5" y="40"/><text x="1750.6" y="50.3">PBE-D3</text><path d="M1667.9 87.85 H1727.1" stroke="#1f77b4" stroke-width="3.68" stroke-linecap="square" fill="none"/><text x="1750.6" y="98.15">NEP (4.5 Å, 4.5 Å)-D3</text></g>
<g font-size="29.6"><use href="#mb" x="459.4" y="550.35"/><text x="512.5" y="560.65">PBE-D3</text><path d="M429.8 598.2 H489" stroke="#d62728" stroke-width="3.68" stroke-linecap="square" fill="none"/><text x="512.5" y="608.5">NEP (6 Å, 4.5 Å)</text></g>
<g font-size="29.6"><use href="#mb" x="1117.9" y="550.35"/><text x="1171" y="560.65">PBE-D3</text><path d="M1088.3 598.2 H1147.5" stroke="#d62728" stroke-width="3.68" stroke-dasharray="13.6 5.88" fill="none"/><text x="1171" y="608.5">NEP (8 Å, 4.5 Å)</text></g>
<g font-size="29.6"><use href="#mb" x="1758.4" y="550.35"/><text x="1811.5" y="560.65">PBE-D3</text><path d="M1728.8 598.2 H1788" stroke="#d62728" stroke-width="3.68" stroke-dasharray="23.53 5.88 3.68 5.88" fill="none"/><text x="1811.5" y="608.5">NEP (10 Å, 4.5 Å)</text></g>
</svg>
</body></html>
